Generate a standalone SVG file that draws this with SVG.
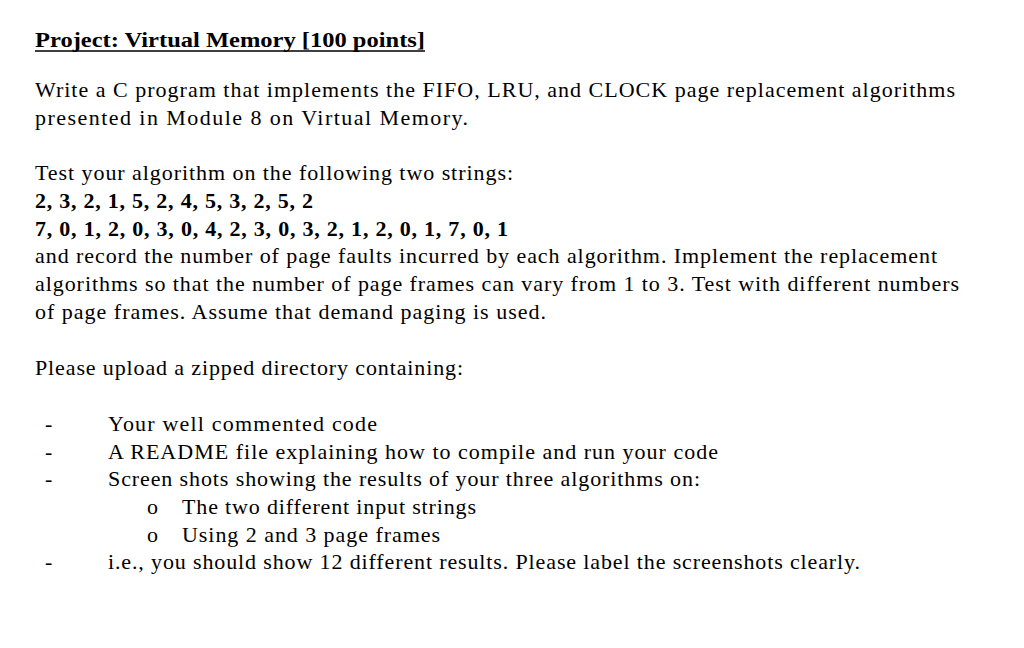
<svg xmlns="http://www.w3.org/2000/svg" width="1024" height="648" viewBox="0 0 1024 648">
<style>
text{font-family:"Liberation Serif","Times New Roman",serif;font-size:22px;fill:#000}
.b{font-weight:bold}
</style>
<rect width="1024" height="648" fill="#fff"/>
<text class="b" x="35" y="47" font-size="21" textLength="390" lengthAdjust="spacingAndGlyphs">Project: Virtual Memory [100 points]</text>
<line x1="35" y1="51" x2="425" y2="51" stroke="#000" stroke-width="1.5"/>
<text x="35" y="97" textLength="920">Write a C program that implements the FIFO, LRU, and CLOCK page replacement algorithms</text>
<text x="35" y="125" textLength="433">presented in Module 8 on Virtual Memory.</text>
<text x="35" y="180" textLength="478">Test your algorithm on the following two strings:</text>
<text class="b" x="35" y="208" textLength="278">2, 3, 2, 1, 5, 2, 4, 5, 3, 2, 5, 2</text>
<text class="b" x="35" y="236" textLength="473">7, 0, 1, 2, 0, 3, 0, 4, 2, 3, 0, 3, 2, 1, 2, 0, 1, 7, 0, 1</text>
<text x="35" y="263" textLength="902">and record the number of page faults incurred by each algorithm. Implement the replacement</text>
<text x="35" y="291" textLength="924">algorithms so that the number of page frames can vary from 1 to 3. Test with different numbers</text>
<text x="35" y="319" textLength="511">of page frames. Assume that demand paging is used.</text>
<text x="35" y="375" textLength="428">Please upload a zipped directory containing:</text>
<text x="45" y="431">-</text>
<text x="108" y="431" textLength="269">Your well commented code</text>
<text x="45" y="459">-</text>
<text x="108" y="459" textLength="610">A README file explaining how to compile and run your code</text>
<text x="45" y="486">-</text>
<text x="108" y="486" textLength="592">Screen shots showing the results of your three algorithms on:</text>
<text x="147" y="514">o</text>
<text x="182" y="514" textLength="294">The two different input strings</text>
<text x="147" y="542">o</text>
<text x="182" y="542" textLength="258">Using 2 and 3 page frames</text>
<text x="45" y="569">-</text>
<text x="108" y="569" textLength="752">i.e., you should show 12 different results. Please label the screenshots clearly.</text>
</svg>
